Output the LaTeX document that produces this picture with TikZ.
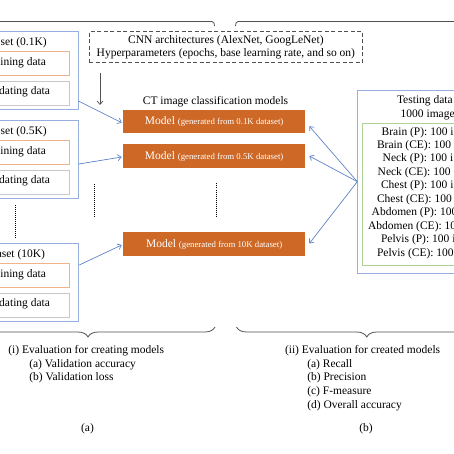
\documentclass[tikz,border=0pt]{standalone}
\usepackage{fontspec}
\setmainfont{Liberation Serif}
\usetikzlibrary{arrows.meta,decorations.pathreplacing,calc}
\definecolor{boxblue}{RGB}{150,175,222}
\definecolor{boxorange}{RGB}{240,180,140}
\definecolor{boxgray}{RGB}{200,200,200}
\definecolor{boxgreen}{RGB}{175,210,150}
\definecolor{modelorange}{RGB}{206,104,38}
\definecolor{arrowblue}{RGB}{95,130,200}
\definecolor{lineg}{RGB}{80,80,80}
\begin{document}
\begin{tikzpicture}[x=1pt,y=-1pt,
  every node/.style={inner sep=0pt,outer sep=0pt,font=\fontsize{11.5}{13.5}\selectfont},
  outerbox/.style={draw=boxblue,line width=0.8pt,minimum width=83.3pt,minimum height=78pt},
  trainbox/.style={draw=boxorange,line width=0.8pt,minimum width=74.3pt,minimum height=23.5pt},
  validbox/.style={draw=boxgray,line width=0.8pt,minimum width=74.3pt,minimum height=24pt},
  modelbox/.style={fill=modelorange,text=white,minimum width=181.7pt,minimum height=23.3pt},
  bluearrow/.style={draw=arrowblue,line width=0.7pt,-{Straight Barb[length=3.5pt,width=6pt]}},
  dotline/.style={line width=0.7pt,dash pattern=on 0.8pt off 1.2pt},
  bracestyle/.style={draw=lineg,line width=0.8pt}]
\useasboundingbox (0,0) rectangle (454,454);
\clip (0,0) rectangle (454,454);

% top line
\draw[bracestyle] (-5,21.5) -- (212,21.5) to[out=0,in=90] (214.5,26);
\draw[bracestyle] (235.5,26) to[out=90,in=180] (238,21.5) -- (460,21.5);

% dataset groups
\node[outerbox] (d1) at (36.65,70.5) {};
\node[anchor=east] (d1t) at (46.7,42.7) {set (0.1K)};
\node[trainbox] (d1a) at (32.15,63.25) {};
\node[anchor=east] (d1at) at (46,62.8) {ining data};
\node[validbox] (d1b) at (32.15,93) {};
\node[anchor=east] (d1bt) at (50,92) {dating data};

\node[outerbox] (d2) at (36.65,159.5) {};
\node[anchor=east] (d2t) at (46.7,131.7) {set (0.5K)};
\node[trainbox] (d2a) at (32.15,152.25) {};
\node[anchor=east] (d2at) at (46,151.8) {ining data};
\node[validbox] (d2b) at (32.15,182) {};
\node[anchor=east] (d2bt) at (50,181) {dating data};

\node[outerbox] (d3) at (36.65,282.5) {};
\node[anchor=east] (d3t) at (45,254.3) {aset (10K)};
\node[trainbox] (d3a) at (32.15,275.25) {};
\node[anchor=east] (d3at) at (46,274.8) {ining data};
\node[validbox] (d3b) at (32.15,305) {};
\node[anchor=east] (d3bt) at (50,304) {dating data};

% dotted lines
\coordinate (v1a) at (15,205); \coordinate (v1b) at (15,238);
\draw[dotline] (v1a) -- (v1b);
\coordinate (v2a) at (94.3,184); \coordinate (v2b) at (94.3,217);
\draw[dotline] (v2a) -- (v2b);
\coordinate (v3a) at (216,183.5); \coordinate (v3b) at (216,217);
\draw[dotline] (v3a) -- (v3b);

% dashed box
\node[draw=lineg,line width=0.7pt,dash pattern=on 4pt off 2.5pt,minimum width=273.2pt,minimum height=31pt,align=center] (cnn) at (225.9,47.2)
  {CNN architectures (AlexNet, GoogLeNet)\\Hyperparameters (epochs, base learning rate, and so on)};
\coordinate (cnnend) at (100,105);
\draw[draw=lineg,line width=0.7pt,-{Straight Barb[length=3.5pt,width=6pt]}] ($(cnn.south west)+(10.7,10)$) -- (cnnend);

% models
\node (ct) at (215.5,101.5) {CT image classification models};
\node[modelbox] (m1) at (214.15,121.7) {Model {\fontsize{8.8}{10}\selectfont (generated from 0.1K dataset)}};
\node[modelbox] (m2) at (214.15,156) {Model {\fontsize{8.8}{10}\selectfont (generated from 0.5K dataset)}};
\node[modelbox] (m3) at (214.15,244) {Model {\fontsize{8.8}{10}\selectfont (generated from 10K dataset)}};

% arrows from datasets
\draw[bluearrow] ($(d1.east)+(0,30.5)$) -- ($(m1.west)+(-1.6,1)$);
\draw[bluearrow] ($(d2.east)+(0.5,4.5)$) -- ($(m2.west)+(-1.6,1)$);
\draw[bluearrow] ($(d3.east)+(1,-17.5)$) -- ($(m3.west)+(-1.6,1)$);

% testing data
\node[draw=boxblue,line width=0.8pt,minimum width=112.7pt,minimum height=183.3pt] (test) at (413.65,181.65) {};
\node[draw=boxgreen,line width=0.8pt,minimum width=107.3pt,minimum height=142.4pt] (testin) at (416.35,194.5) {};
\node[anchor=west] (tt1) at (397,100.7) {Testing data};
\node[anchor=west] (tt2) at (400.7,114.5) {1000 image};
\node[anchor=west] (l1) at (381.7,132.3) {Brain (P): 100 i};
\node[anchor=west] (l2) at (377,145.75) {Brain (CE): 100};
\node[anchor=west] (l3) at (382.7,159.2) {Neck (P): 100 i};
\node[anchor=west] (l4) at (377.7,172.65) {Neck (CE): 100};
\node[anchor=west] (l5) at (381,186.1) {Chest (P): 100 i};
\node[anchor=west] (l6) at (377,199.55) {Chest (CE): 100};
\node[anchor=west] (l7) at (371.7,213) {Abdomen (P): 100};
\node[anchor=west] (l8) at (368,226.45) {Abdomen (CE): 10};
\node[anchor=west] (l9) at (381,239.9) {Pelvis (P): 100 i};
\node[anchor=west] (l10) at (377,253.35) {Pelvis (CE): 100};

\coordinate (tsrc) at ($(test.west)+(0,0)$);
\draw[bluearrow] (tsrc) -- ($(m1.east)+(4.3,4.5)$);
\draw[bluearrow] (tsrc) -- ($(m2.east)+(4.3,0)$);
\draw[bluearrow] (tsrc) -- ($(m3.east)+(4.3,-0.5)$);

% braces
\draw[bracestyle,decorate,decoration={brace,amplitude=10pt,mirror}] (-39,327) -- (215,327);
\draw[bracestyle,decorate,decoration={brace,amplitude=10pt,mirror}] (236.5,327) -- (497,327);

% bottom texts
\node[anchor=west] (e1) at (8.3,350.5) {(i) Evaluation for creating models};
\node[anchor=west] (e1a) at (29.3,364.3) {(a) Validation accuracy};
\node[anchor=west] (e1b) at (29.3,378) {(b) Validation loss};
\node (capa) at (87.5,429) {(a)};
\node[anchor=west] (e2) at (285,350.5) {(ii) Evaluation for created models};
\node[anchor=west] (e2a) at (307.3,364.3) {(a) Recall};
\node[anchor=west] (e2b) at (307.3,378) {(b) Precision};
\node[anchor=west] (e2c) at (307.3,391.7) {(c) F-measure};
\node[anchor=west] (e2d) at (307.3,405.4) {(d) Overall accuracy};
\node (capb) at (366,429) {(b)};
\end{tikzpicture}
\end{document}
